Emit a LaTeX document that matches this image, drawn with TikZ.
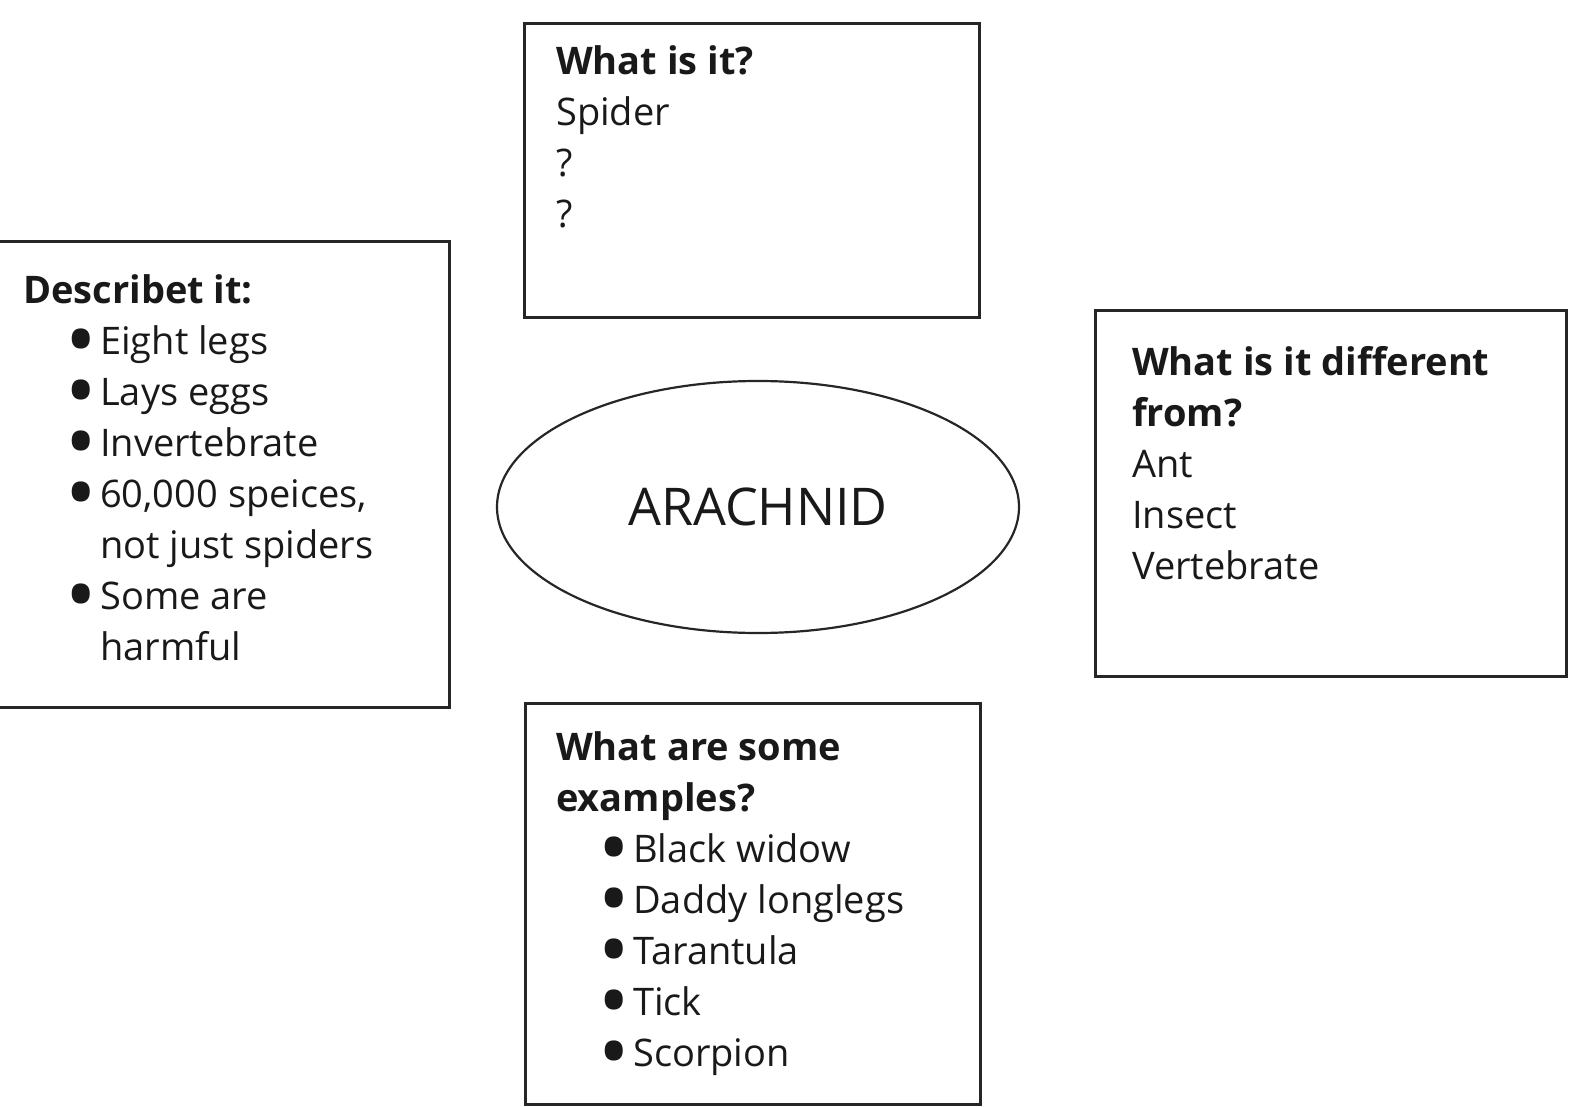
\documentclass[tikz,border=0pt]{standalone}
\usepackage{fontspec}
\setmainfont{Open Sans}
\usetikzlibrary{shapes.geometric}
\newcommand\bitem{\makebox[77pt][r]{\smash{\raisebox{-15pt}{\scalebox{2.2}{\textbullet}}}\hspace{3pt}}}
\newcommand\bcont{\hspace*{77pt}}
\tikzset{
  box/.style={draw=black!85, line width=2.8pt, rectangle, inner sep=0pt, anchor=north west},
  txt/.style={anchor=base west, align=left, inner sep=0pt, text=black!90,
    font=\fontsize{38}{51}\selectfont},
  oval/.style={draw=black!85, line width=2.2pt, ellipse, inner sep=0pt,
    font=\fontsize{52}{60}\selectfont, text=black!90},
}
\begin{document}
\begin{tikzpicture}[x=1pt,y=-1pt]
\useasboundingbox (0,0) rectangle (1569,1107);
% boxes
\node[box, minimum width=455pt, minimum height=294pt] (topbox) at (523,22) {};
\node[box, minimum width=458pt, minimum height=466pt] (leftbox) at (-10,240) {};
\node[box, minimum width=471pt, minimum height=366pt] (rightbox) at (1094,309) {};
\node[box, minimum width=455pt, minimum height=401pt] (botbox) at (524,702) {};
% ellipse
\node[oval, minimum width=522pt, minimum height=252pt] (arach) at (758,507) {ARACHNID};
% texts (anchor = baseline of the last line)
\node[txt] (toptxt) at (556,228) {\textbf{What is it?}\\Spider\\?\\?};
\node[txt] (lefttxt) at (23,660) {\textbf{Describet it:}\\\bitem Eight legs\\\bitem Lays eggs\\\bitem Invertebrate\\\bitem 60,000 speices,\\\bcont not just spiders\\\bitem Some are\\\bcont harmful};
\node[txt] (righttxt) at (1132,579) {\textbf{What is it different}\\\textbf{from?}\\Ant\\Insect\\Vertebrate};
\node[txt] (bottxt) at (556,1066) {\textbf{What are some}\\\textbf{examples?}\\\bitem Black widow\\\bitem Daddy longlegs\\\bitem Tarantula\\\bitem Tick\\\bitem Scorpion};
\end{tikzpicture}
\end{document}
